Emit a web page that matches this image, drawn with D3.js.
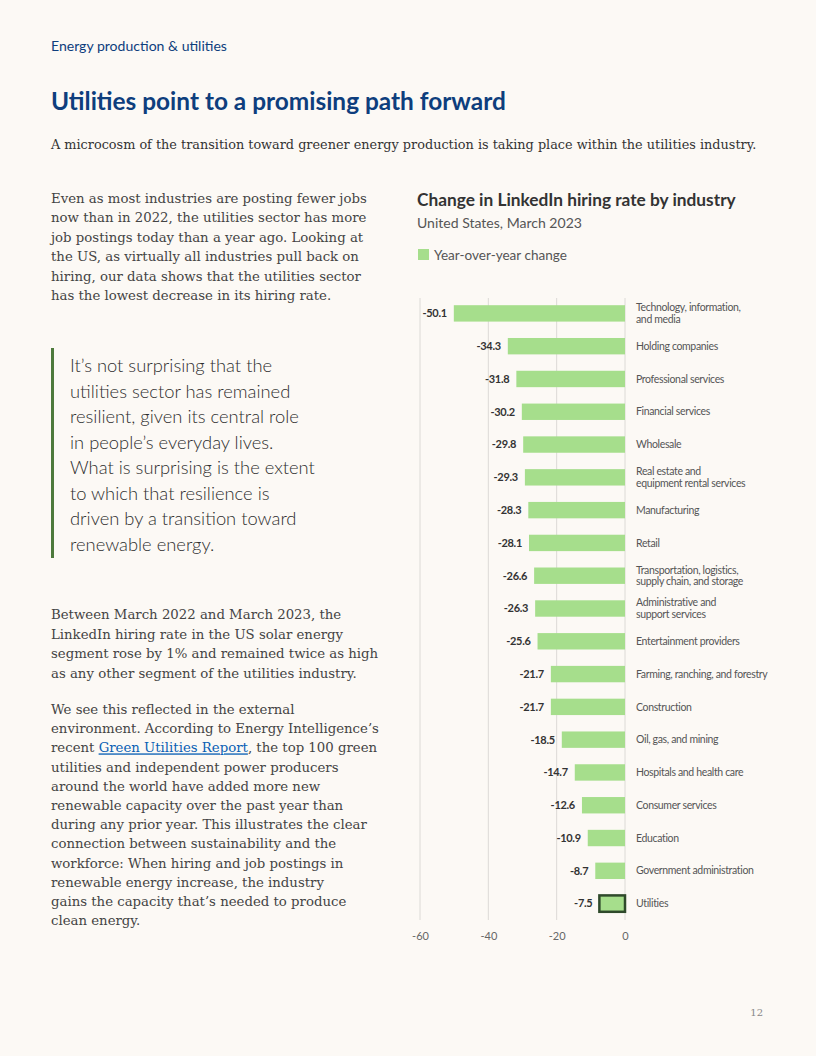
<!DOCTYPE html>
<html>
<head>
<meta charset="utf-8">
<script src="https://cdn.jsdelivr.net/npm/d3@7"></script>
<style>
  body { margin: 0; background: #fcf9f5; }
  svg { display: block; }
</style>
</head>
<body>
<div id="page"></div>
<script>
// chart data
var categories = [
  "Technology, information,\nand media",
  "Holding companies",
  "Professional services",
  "Financial services",
  "Wholesale",
  "Real estate and\nequipment rental services",
  "Manufacturing",
  "Retail",
  "Transportation, logistics,\nsupply chain, and storage",
  "Administrative and\nsupport services",
  "Entertainment providers",
  "Farming, ranching, and forestry",
  "Construction",
  "Oil, gas, and mining",
  "Hospitals and health care",
  "Consumer services",
  "Education",
  "Government administration",
  "Utilities"
];
var values = [-50.1, -34.3, -31.8, -30.2, -29.8, -29.3, -28.3, -28.1, -26.6, -26.3, -25.6, -21.7, -21.7, -18.5, -14.7, -12.6, -10.9, -8.7, -7.5];
var tickValues = [-60, -40, -20, 0];
var highlighted = "Utilities";

var W = 816, H = 1056;
var navy = "#0e3e7d", green = "#a6de8c", textGray = "#444";
var sans = "Lato, 'Open Sans', sans-serif";
var serif = "'DejaVu Serif', serif";

// plain hyphen instead of d3's unicode minus
var fmt1 = function(v) { return d3.format(".1f")(v).replace("\u2212", "-"); };
var fmt0 = function(v) { return d3.format("d")(v).replace("\u2212", "-"); };

var svg = d3.select("#page").append("svg")
    .attr("width", W)
    .attr("height", H);

svg.append("rect").attr("width", W).attr("height", H).attr("fill", "#fcf9f5");

// scale font size so a text element spans a given width
function fit(sel, width) {
  var fs = parseFloat(sel.attr("font-size"));
  var w = sel.node().getComputedTextLength();
  sel.attr("font-size", (fs * width / w).toFixed(2));
  return +sel.attr("font-size");
}

// header
fit(svg.append("text")
  .attr("x", 51).attr("y", 51)
  .attr("font-family", sans).attr("font-size", 14)
  .attr("fill", navy)
  .text("Energy production & utilities"), 176);

fit(svg.append("text")
  .attr("x", 51).attr("y", 110)
  .attr("font-family", sans).attr("font-weight", "bold").attr("font-size", 26)
  .attr("fill", navy)
  .text("Utilities point to a promising path forward"), 455);

fit(svg.append("text")
  .attr("x", 51).attr("y", 149)
  .attr("font-family", serif).attr("font-size", 13)
  .attr("fill", "#333")
  .text("A microcosm of the transition toward greener energy production is taking place within the utilities industry."), 706);

// left column body text
var para1 = [
  "Even as most industries are posting fewer jobs",
  "now than in 2022, the utilities sector has more",
  "job postings today than a year ago. Looking at",
  "the US, as virtually all industries pull back on",
  "hiring, our data shows that the utilities sector",
  "has the lowest decrease in its hiring rate."
];
var para2 = [
  "Between March 2022 and March 2023, the",
  "LinkedIn hiring rate in the US solar energy",
  "segment rose by 1% and remained twice as high",
  "as any other segment of the utilities industry."
];
var para3 = [
  "We see this reflected in the external",
  "environment. According to Energy Intelligence\u2019s",
  "recent |Green Utilities Report|, the top 100 green",
  "utilities and independent power producers",
  "around the world have added more new",
  "renewable capacity over the past year than",
  "during any prior year. This illustrates the clear",
  "connection between sustainability and the",
  "workforce: When hiring and job postings in",
  "renewable energy increase, the industry",
  "gains the capacity that\u2019s needed to produce",
  "clean energy."
];

// find body font size from the first line
var probe = svg.append("text").attr("font-family", serif).attr("font-size", 13).text(para1[0]);
var bodySize = fit(probe, 316);
probe.remove();

function drawPara(lines, y0, step) {
  lines.forEach(function(line, i) {
    var t = svg.append("text")
      .attr("x", 51).attr("y", y0 + i * step)
      .attr("font-family", serif).attr("font-size", bodySize)
      .attr("fill", textGray);
    line.split("|").forEach(function(part, j) {
      var ts = t.append("tspan").text(part);
      if (j === 1) ts.attr("fill", "#0a5fb4").attr("text-decoration", "underline");
    });
  });
}
drawPara(para1, 203, 19.4);
drawPara(para2, 619, 19.6);
drawPara(para3, 714, 19.2);

// pull quote
var quote = [
  "It\u2019s not surprising that the",
  "utilities sector has remained",
  "resilient, given its central role",
  "in people\u2019s everyday lives.",
  "What is surprising is the extent",
  "to which that resilience is",
  "driven by a transition toward",
  "renewable energy."
];
svg.append("rect")
  .attr("x", 51).attr("y", 348)
  .attr("width", 3).attr("height", 210)
  .attr("fill", "#4d7a3c");

var qprobe = svg.append("text").attr("font-family", sans).attr("font-weight", 300)
  .attr("font-size", 19).text(quote[4]);
var quoteSize = fit(qprobe, 245);
qprobe.remove();
quote.forEach(function(line, i) {
  svg.append("text")
    .attr("x", 70).attr("y", 372 + i * 25.5)
    .attr("font-family", sans).attr("font-weight", 300).attr("font-size", quoteSize)
    .attr("fill", "#2e2e2e")
    .text(line);
});

// chart heading + legend
fit(svg.append("text")
  .attr("x", 417).attr("y", 206)
  .attr("font-family", sans).attr("font-weight", "bold").attr("font-size", 17)
  .attr("fill", "#333")
  .text("Change in LinkedIn hiring rate by industry"), 319);

fit(svg.append("text")
  .attr("x", 417).attr("y", 228)
  .attr("font-family", sans).attr("font-size", 14)
  .attr("fill", "#555")
  .text("United States, March 2023"), 165);

svg.append("rect")
  .attr("x", 418).attr("y", 249)
  .attr("width", 11).attr("height", 11)
  .attr("fill", green);
fit(svg.append("text")
  .attr("x", 434).attr("y", 260)
  .attr("font-family", sans).attr("font-size", 13)
  .attr("fill", "#555")
  .text("Year-over-year change"), 133);

// bar chart
var x = d3.scaleLinear()
    .domain([-60, 0])
    .range([420, 625]);

var y = d3.scaleBand()
    .domain(categories)
    .range([297, 920])
    .paddingInner(0.5)
    .paddingOuter(0.25);

var g = svg.append("g");

// gridlines
g.selectAll(".grid")
    .data(tickValues)
  .enter().append("line")
    .attr("class", "grid")
    .attr("x1", function(d) { return x(d); })
    .attr("x2", function(d) { return x(d); })
    .attr("y1", 298)
    .attr("y2", 920)
    .attr("stroke", "#dcdad6")
    .attr("stroke-width", 1);

var rows = categories.map(function(c, i) { return {category: c, value: values[i]}; });

g.selectAll(".bar")
    .data(rows)
  .enter().append("rect")
    .attr("class", "bar")
    .attr("x", function(d) { return x(d.value); })
    .attr("y", function(d) { return y(d.category); })
    .attr("width", function(d) { return x(0) - x(d.value); })
    .attr("height", y.bandwidth())
    .attr("fill", green)
    .attr("stroke", function(d) { return d.category === highlighted ? "#2f4a2b" : "none"; })
    .attr("stroke-width", 2.5);

// value labels
g.selectAll(".val")
    .data(rows)
  .enter().append("text")
    .attr("class", "val")
    .attr("x", function(d) { return x(d.value) - 7; })
    .attr("y", function(d) { return y(d.category) + y.bandwidth() / 2; })
    .attr("dy", "0.35em")
    .attr("text-anchor", "end")
    .attr("font-family", sans).attr("font-weight", "bold").attr("font-size", 11)
    .attr("letter-spacing", -0.3)
    .attr("fill", "#333")
    .text(function(d) { return fmt1(d.value); });

// category labels
var cat = g.selectAll(".cat")
    .data(rows)
  .enter().append("text")
    .attr("class", "cat")
    .attr("x", 636)
    .attr("y", function(d) { return y(d.category) + y.bandwidth() / 2; })
    .attr("font-family", sans).attr("font-size", 10.5)
    .attr("letter-spacing", -0.35)
    .attr("fill", "#555");
cat.each(function(d) {
  var lines = d.category.split("\n");
  var t = d3.select(this);
  lines.forEach(function(l, i) {
    t.append("tspan")
      .attr("x", 636)
      .attr("dy", i === 0 ? (lines.length === 1 ? "0.35em" : "-0.2em") : "1.1em")
      .text(l);
  });
});

// x axis
var axis = svg.append("g")
    .attr("transform", "translate(0,928)")
    .call(d3.axisBottom(x).tickValues(tickValues).tickSize(0).tickPadding(4).tickFormat(fmt0));
axis.select(".domain").remove();
axis.selectAll("text")
    .attr("font-family", sans).attr("font-size", 11)
    .attr("fill", "#666");

// page number
svg.append("text")
  .attr("x", 763).attr("y", 1016)
  .attr("text-anchor", "end")
  .attr("font-family", serif).attr("font-size", 10)
  .attr("fill", "#888")
  .text("12");
</script>
</body>
</html>
